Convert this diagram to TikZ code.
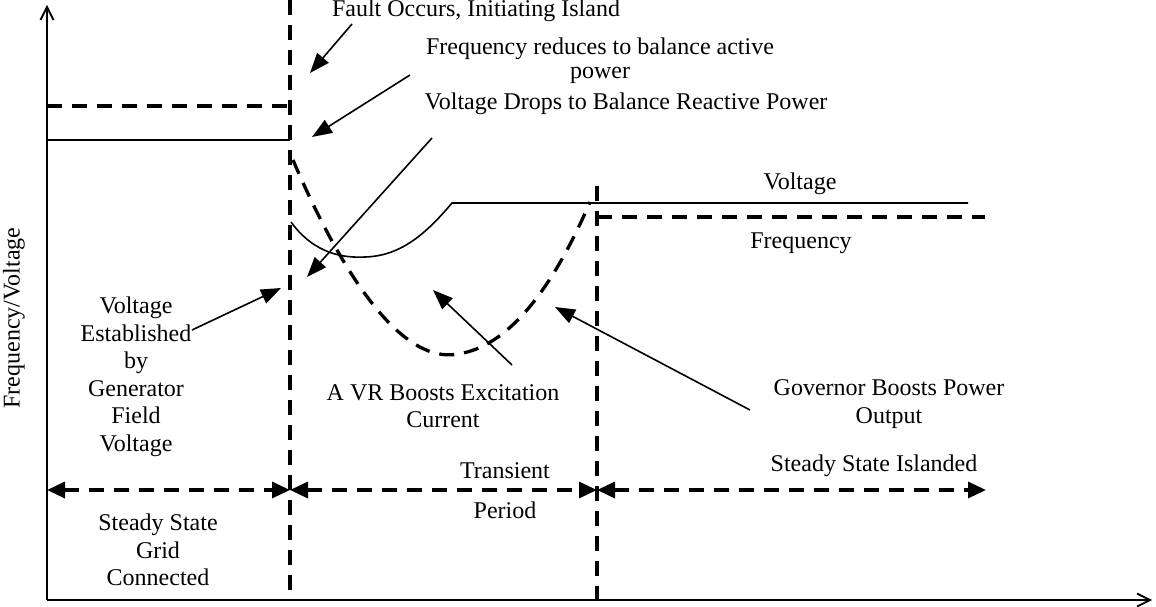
\documentclass[tikz,border=0pt]{standalone}
\usepackage{fontspec}
\setmainfont{Liberation Serif}
\usetikzlibrary{arrows.meta}
\begin{document}
\begin{tikzpicture}[x=1pt,y=-1pt,
  dsh/.style={line width=3.3pt,dash pattern=on 15pt off 10pt},
  ptr/.style={line width=1.6pt,-{Triangle[length=20pt,width=15pt]}},
  per/.style={dsh,{Triangle[length=18pt,width=16pt]}-{Triangle[length=18pt,width=16pt]}},
  lab/.style={font=\fontsize{24}{27.5}\selectfont,align=center,inner sep=0}]
\useasboundingbox (0,0) rectangle (1156,607);
\coordinate (o) at (47,600);
\coordinate (ytop) at (47,5);
\coordinate (xend) at (1152,600);
\draw[line width=1.8pt,-{Straight Barb[length=13pt,width=13pt]}] (o) -- (ytop);
\draw[line width=1.8pt,-{Straight Barb[length=13pt,width=13pt]}] (o) -- (xend);
\node[lab,rotate=90] (yl) at (14,318) {Frequency/Voltage};
% vertical dashed
\coordinate (v1t) at (290,0); \coordinate (v1b) at (290,600);
\coordinate (v2t) at (597,186); \coordinate (v2b) at (597,600);
\draw[dsh] (v1t) -- (v1b);
\draw[dsh] (v2t) -- (v2b);
% pre-fault levels
\coordinate (f0) at (47,106); \coordinate (f1) at (290,106);
\coordinate (u0) at (47,140); \coordinate (u1) at (290,140);
\draw[dsh] (f0) -- (f1);
\draw[line width=1.6pt] (u0) -- (u1);
% voltage curve
\coordinate (va) at (291,222); \coordinate (vb) at (452,203); \coordinate (vc) at (968,203);
\draw[line width=1.6pt] (va) .. controls (315,255) and (345,258) .. (365,257) .. controls (400,256) and (425,235) .. (vb) -- (vc);
% frequency curve
\coordinate (fa) at (293,160); \coordinate (fb) at (590,202);
\coordinate (fc) at (597,217); \coordinate (fd) at (985,217);
\draw[dsh] (fa) .. controls (340,270) and (400,365) .. (458,354) .. controls (520,345) and (565,260) .. (fb);
\draw[dsh] (fc) -- (fd);
% labels
\node[lab] (t1) at (476,11) {Fault Occurs, Initiating Island};
\node[lab] (t2) at (600,49) {Frequency reduces to balance active};
\node[lab] (t2b) at (600,75) {power};
\node[lab] (t3) at (626,104) {Voltage Drops to Balance Reactive Power};
\node[lab] (t4) at (800,184) {Voltage};
\node[lab] (t5) at (801,243) {Frequency};
\node[lab,align=center] (t6) at (136,377) {Voltage\\Established\\by\\Generator\\Field\\Voltage};
\node[lab] (t7) at (443,406) {A VR Boosts Excitation\\Current};
\node[lab] (t8) at (889,404) {Governor Boosts Power\\Output};
\node[lab] (t9) at (505,471) {Transient};
\node[lab] (t10) at (505,510) {Period};
\node[lab] (t11) at (874,466) {Steady State Islanded};
\node[lab] (t12) at (158,550) {Steady State\\Grid\\Connected};
% pointers
\coordinate (p1s) at (352,24); \coordinate (p1e) at (310,73);
\coordinate (p2s) at (410,75); \coordinate (p2e) at (312,137);
\coordinate (p3s) at (432,138); \coordinate (p3e) at (307,277);
\coordinate (p4s) at (192,330); \coordinate (p4e) at (281,288);
\coordinate (p5s) at (512,365); \coordinate (p5e) at (433,290);
\coordinate (p6s) at (750,410); \coordinate (p6e) at (555,307);
\draw[ptr] (p1s) -- (p1e);
\draw[ptr] (p2s) -- (p2e);
\draw[ptr] (p3s) -- (p3e);
\draw[ptr] (p4s) -- (p4e);
\draw[ptr] (p5s) -- (p5e);
\draw[ptr] (p6s) -- (p6e);
% periods
\coordinate (b0) at (47,490); \coordinate (b1) at (290,490);
\coordinate (b2) at (597,490); \coordinate (b3) at (986,490);
\draw[per] (b0) -- (b1);
\draw[per] (b1) -- (b2);
\draw[per] (b2) -- (b3);
\end{tikzpicture}
\end{document}
